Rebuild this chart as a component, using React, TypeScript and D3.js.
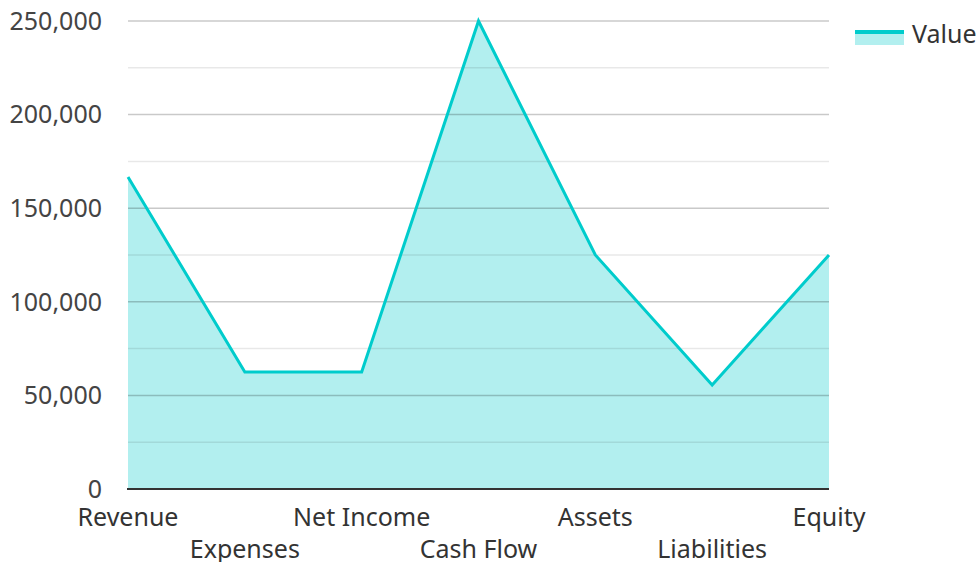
import React, { useEffect, useRef } from 'react';
import * as d3 from 'd3';

const categories = ['Revenue', 'Expenses', 'Net Income', 'Cash Flow', 'Assets', 'Liabilities', 'Equity'];
const values = [166667, 62500, 62500, 250000, 125000, 55556, 125000];
const majorTicks = [0, 50000, 100000, 150000, 200000, 250000];
const minorTicks = [25000, 75000, 125000, 175000, 225000];
const seriesName = 'Value';

const LINE = '#00cccc';
const FILL = '#b2efef';

const App: React.FC = () => {
  const svgRef = useRef<SVGSVGElement>(null);
  const width = 978;
  const height = 562;

  useEffect(() => {
    if (!svgRef.current) return;
    const svg = d3.select(svgRef.current);
    svg.selectAll('*').remove();

    const left = 128, right = 829, top = 21, bottom = 489;
    const font = '"Noto Sans", "Open Sans", sans-serif';

    const x = d3.scalePoint<string>().domain(categories).range([left, right]);
    const y = d3.scaleLinear().domain([0, 250000]).range([bottom, top]);

    // Area + line
    const area = d3.area<number>()
      .x((_, i) => x(categories[i]) as number)
      .y0(y(0))
      .y1(d => y(d));
    svg.append('path')
      .attr('d', area(values) as string)
      .attr('fill', FILL);

    // Gridlines (over the fill)
    minorTicks.forEach(t => {
      svg.append('line')
        .attr('x1', left).attr('x2', right)
        .attr('y1', y(t)).attr('y2', y(t))
        .attr('stroke', '#000').attr('stroke-opacity', 0.09)
        .attr('stroke-width', 1.5);
    });
    majorTicks.filter(t => t > 0).forEach(t => {
      svg.append('line')
        .attr('x1', left).attr('x2', right)
        .attr('y1', y(t)).attr('y2', y(t))
        .attr('stroke', '#000').attr('stroke-opacity', 0.21)
        .attr('stroke-width', 1.5);
    });

    const line = d3.line<number>()
      .x((_, i) => x(categories[i]) as number)
      .y(d => y(d));
    svg.append('path')
      .attr('d', line(values) as string)
      .attr('fill', 'none')
      .attr('stroke', LINE)
      .attr('stroke-width', 3);

    // Baseline
    svg.append('line')
      .attr('x1', left - 1).attr('x2', right)
      .attr('y1', bottom).attr('y2', bottom)
      .attr('stroke', '#333').attr('stroke-width', 2);

    // Y labels
    majorTicks.forEach(t => {
      svg.append('text')
        .attr('x', 102)
        .attr('y', y(t))
        .attr('dy', '0.35em')
        .attr('text-anchor', 'end')
        .style('font-family', font)
        .style('font-size', '25px')
        .style('fill', '#444')
        .text(d3.format(',')(t));
    });

    // X labels, staggered
    categories.forEach((c, i) => {
      svg.append('text')
        .attr('x', x(c) as number)
        .attr('y', i % 2 === 0 ? 526 : 558)
        .attr('text-anchor', 'middle')
        .style('font-family', font)
        .style('font-size', '25px')
        .style('fill', '#333')
        .text(c);
    });

    // Legend
    const lg = svg.append('g').attr('transform', 'translate(855, 30)');
    lg.append('rect').attr('x', 0).attr('y', 0).attr('width', 49).attr('height', 15).attr('fill', FILL);
    lg.append('line').attr('x1', 0).attr('x2', 49).attr('y1', 2).attr('y2', 2)
      .attr('stroke', LINE).attr('stroke-width', 4);
    lg.append('text')
      .attr('x', 57).attr('y', 13)
      .style('font-family', font)
      .style('font-size', '25px')
      .style('fill', '#333')
      .text(seriesName);
  }, []);

  return (
    <svg ref={svgRef} width={width} height={height}
      style={{ position: 'absolute', left: 0, top: 0 }} />
  );
};

export default App;
